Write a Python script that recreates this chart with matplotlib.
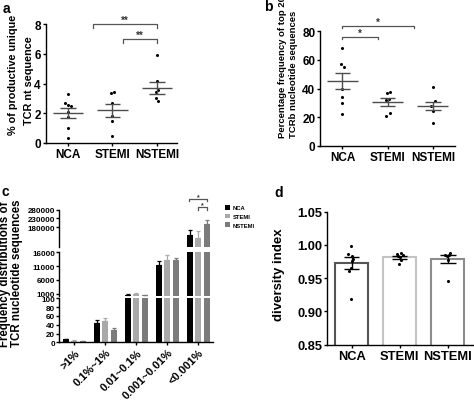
import numpy as np
import matplotlib
matplotlib.use('Agg')
import matplotlib.pyplot as plt

plt.rcParams['font.family'] = ['Liberation Sans', 'DejaVu Sans']
plt.rcParams['font.weight'] = 'bold'
plt.rcParams['axes.linewidth'] = 1.0

groups = ['NCA', 'STEMI', 'NSTEMI']

# panel a: % of productive unique TCR nt sequence
a_points = [[3.29, 2.66, 2.55, 2.50, 2.10, 1.75, 0.98, 0.31],
            [3.40, 3.33, 2.66, 1.83, 1.48, 0.49],
            [5.90, 4.14, 3.58, 3.44, 3.00, 2.84]]
a_mean = [2.02, 2.19, 3.71]
a_sem = [0.35, 0.46, 0.41]

# panel b: frequency of top 200 sequences
b_points = [[68.3, 57.0, 55.0, 39.6, 34.3, 30.0, 22.1],
            [37.8, 36.6, 32.6, 31.7, 22.6, 21.0],
            [40.8, 31.5, 28.0, 24.5, 15.8]]
b_mean = [45.0, 30.5, 27.7]
b_sem = [5.5, 2.9, 3.0]

# panel c: frequency distributions (broken axis)
c_labels = ['>1%', '0.1%~1%', '0.01~0.1%', '0.001~0.01%', '<0.001%']
c_nca = [6.5, 45, 600, 11450, 138000]
c_nca_err = [1, 6, 80, 1550, 26600]
c_stemi = [3.5, 48, 800, 13280, 121000]
c_stemi_err = [1, 7, 300, 1900, 36000]
c_nstemi = [2.5, 29, 400, 13280, 198700]
c_nstemi_err = [0.5, 4, 60, 800, 24300]

# panel d: diversity index
d_points = [[0.998, 0.987, 0.984, 0.9795, 0.976, 0.965, 0.9605, 0.919],
            [0.9875, 0.9865, 0.985, 0.983, 0.9815, 0.9775, 0.9715],
            [0.988, 0.9855, 0.985, 0.983, 0.9775, 0.9455]]
d_mean = [0.9725, 0.9815, 0.979]
d_sem = [0.0088, 0.0025, 0.006]

# small horizontal spread of overlapping dots
a_jit = [[0, -0.07, 0, 0.07, 0, 0, 0, 0], [0.03, -0.03, 0, 0, 0, 0], [0, 0, 0.03, -0.03, -0.03, 0.03]]
b_jit = [[0, -0.03, 0.03, 0, 0, 0, 0], [0.06, -0.02, 0.03, -0.03, 0.05, -0.03], [0, 0.04, -0.04, 0, 0]]
d_jit = [[-0.02, -0.08, 0.01, 0.03, 0, -0.02, -0.05, -0.02],
         [0.03, -0.05, 0.06, -0.03, 0, 0.02, -0.01],
         [0.05, -0.05, 0.02, -0.02, 0, 0]]

W, H = 474, 402
fig = plt.figure(figsize=(W / 100, H / 100), dpi=100)


def rect(x0, x1, ytop, ybot):
    return [x0 / W, 1 - ybot / H, (x1 - x0) / W, (ybot - ytop) / H]


def style(ax, size):
    ax.spines['top'].set_visible(False)
    ax.spines['right'].set_visible(False)
    ax.tick_params(direction='out', length=2.5, width=1, labelsize=size, pad=1)
    for lab in ax.get_xticklabels() + ax.get_yticklabels():
        lab.set_fontweight('bold')


def bracket(ax, x0, x1, y, drop, star, ystar, size):
    ax.plot([x0, x0, x1, x1], [y - drop, y, y, y - drop], color='#555555', lw=0.9, clip_on=False)
    ax.text((x0 + x1) / 2, ystar, star, ha='center', va='center', fontsize=size,
            fontweight='bold', color='#333333', clip_on=False)


def dot_plot(ax, points, jit, mean, sem):
    for i, vals in enumerate(points):
        ax.plot(np.array(jit[i]) + i, vals, 'o', color='black', ms=2.2, mew=0, clip_on=False)
        ax.hlines(mean[i], i - 0.34, i + 0.34, color='#4d4d4d', lw=1)
        ax.vlines(i, mean[i] - sem[i], mean[i] + sem[i], color='#4d4d4d', lw=1)
        ax.hlines([mean[i] - sem[i], mean[i] + sem[i]], i - 0.17, i + 0.17, color='#4d4d4d', lw=1)


# ---- a ----
ax_a = fig.add_axes(rect(45.7, 177, 25, 144))
dot_plot(ax_a, a_points, a_jit, a_mean, a_sem)
ax_a.set_xlim(-0.5, 2.45)
ax_a.set_ylim(0, 8)
ax_a.set_yticks([0, 2, 4, 6, 8])
ax_a.set_xticks(range(3))
ax_a.set_xticklabels(groups)
style(ax_a, 8.5)
bracket(ax_a, 0.56, 2.0, 8.0, 0.3, '**', 8.25, 7)
bracket(ax_a, 1.24, 2.0, 7.0, 0.25, '**', 7.25, 7)
fig.text(13 / W, 1 - 75 / H, '% of productive unique', rotation=90, ha='center', va='center',
         fontsize=7.8, fontweight='bold')
fig.text(28.5 / W, 1 - 80.5 / H, 'TCR nt sequence', rotation=90, ha='center', va='center',
         fontsize=7.8, fontweight='bold')

# ---- b ----
ax_b = fig.add_axes(rect(320.3, 455, 32.3, 146.7))
dot_plot(ax_b, b_points, b_jit, b_mean, b_sem)
ax_b.set_xlim(-0.49, 2.49)
ax_b.set_ylim(0, 80)
ax_b.set_yticks([0, 20, 40, 60, 80])
ax_b.set_xticks(range(3))
ax_b.set_xticklabels(groups)
style(ax_b, 8.5)
bracket(ax_b, 0, 0.78, 76.2, 1.3, '*', 79.0, 7)
bracket(ax_b, 0, 1.58, 84.0, 2.0, '*', 86.8, 7)
fig.text(282.5 / W, 1 - 138 / H, 'Percentage frequency of top 200', rotation=90, ha='center',
         va='bottom', fontsize=6.8, fontweight='bold')
fig.text(293 / W, 1 - 138 / H, 'TCRb nucleotide sequences', rotation=90, ha='center',
         va='bottom', fontsize=6.8, fontweight='bold')

# ---- c (broken y axis in three pieces) ----
ax_ct = fig.add_axes(rect(59.3, 213, 210.7, 248))
ax_cm = fig.add_axes(rect(59.3, 213, 253.3, 297.3))
ax_cb = fig.add_axes(rect(59.3, 213, 299.3, 343.3))
c_series = [(c_nca, c_nca_err, '#000000', 'NCA'),
            (c_stemi, c_stemi_err, '#a9a9a9', 'STEMI'),
            (c_nstemi, c_nstemi_err, '#7b7b7b', 'NSTEMI')]
x = np.arange(len(c_labels))
limits = [(68000, 280000), (0, 16000), (0, 100)]
# a bar shows in a piece only if it rises past the piece below it
floors = [16000, 100, -1]
handles = []
for ax, (lo, hi), floor in zip([ax_ct, ax_cm, ax_cb], limits, floors):
    for k, (vals, errs, col, name) in enumerate(c_series):
        xs = x + (k - 1) * 0.27
        vals = np.array(vals, dtype=float)
        errs = np.array(errs, dtype=float)
        show = vals > floor
        b = ax.bar(xs[show], vals[show], width=0.19, color=col, label=name)
        if ax is ax_ct:
            handles.append(b)
        keep = show & (vals + errs > lo) & (vals < hi)
        if keep.any():
            ax.errorbar(xs[keep], vals[keep], yerr=[np.zeros(keep.sum()), errs[keep]], fmt='none',
                        ecolor=col, elinewidth=0.9, capsize=1.5, capthick=0.9)
    ax.set_ylim(lo, hi)
    ax.set_xlim(-0.48, 4.47)
    style(ax, 5.8)
    ax.tick_params(axis='y', length=2, pad=1)

ax_ct.set_yticks([180000, 230000, 280000])
ax_cm.set_yticks([1000, 6000, 11000, 16000])
ax_cb.set_yticks([0, 20, 40, 60, 80, 100])
for ax in [ax_ct, ax_cm]:
    ax.spines['bottom'].set_visible(False)
    ax.set_xticks([])
ax_cb.set_xticks(x)
ax_cb.set_xticklabels(c_labels, rotation=45, ha='right', rotation_mode='anchor',
                      fontsize=8, fontweight='bold')
ax_cb.tick_params(axis='x', length=2, pad=1.5)

bracket(ax_ct, 4 - 0.3, 4 + 0.27, 340800, 13000, '*', 352000, 5)
bracket(ax_ct, 4.0, 4 + 0.27, 293600, 13000, '*', 306000, 5)
fig.legend(handles=handles, loc='upper left', bbox_to_anchor=(225 / W, 1 - 206 / H),
           frameon=False, fontsize=4.2, handlelength=0.9, handleheight=0.9,
           handletextpad=0.4, labelspacing=0.55, borderpad=0, borderaxespad=0)
fig.text(5.5 / W, 1 - 347 / H, 'Frequency distributions of', rotation=90, ha='center',
         va='bottom', fontsize=8.3, fontweight='bold')
fig.text(17.5 / W, 1 - 347 / H, 'TCR nucleotide sequences', rotation=90, ha='center',
         va='bottom', fontsize=8.3, fontweight='bold')

# ---- d ----
ax_d = fig.add_axes(rect(327.3, 480, 212.7, 345.7))
edge_cols = ['#555555', '#c4c4c4', '#8c8c8c']
ax_d.bar(range(3), d_mean, width=0.69, bottom=0, color='white', edgecolor=edge_cols, linewidth=1.5)
for i, vals in enumerate(d_points):
    ax_d.plot(np.array(d_jit[i]) + i, vals, 'o', color='black', ms=2.2, mew=0)
    ax_d.vlines(i, d_mean[i] - d_sem[i], d_mean[i] + d_sem[i], color='black', lw=1)
    ax_d.hlines([d_mean[i] - d_sem[i], d_mean[i] + d_sem[i]], i - 0.16, i + 0.16, color='black', lw=1)
ax_d.set_xlim(-0.51, 2.67)
ax_d.set_ylim(0.85, 1.05)
ax_d.set_yticks([0.85, 0.90, 0.95, 1.00, 1.05])
ax_d.set_yticklabels(['%.2f' % v for v in [0.85, 0.90, 0.95, 1.00, 1.05]])
ax_d.set_xticks(range(3))
ax_d.set_xticklabels(groups)
style(ax_d, 9.3)
fig.text(278.7 / W, 1 - 274.7 / H, 'diversity index', rotation=90, ha='center', va='center',
         fontsize=9.5, fontweight='bold')

# panel letters
for letter, px, py in [('a', 6, 9), ('b', 268, 7), ('c', 5, 192), ('d', 279, 193)]:
    fig.text(px / W, 1 - py / H, letter, ha='center', va='center', fontsize=10, fontweight='bold')

fig.savefig('out.png', dpi=100)
